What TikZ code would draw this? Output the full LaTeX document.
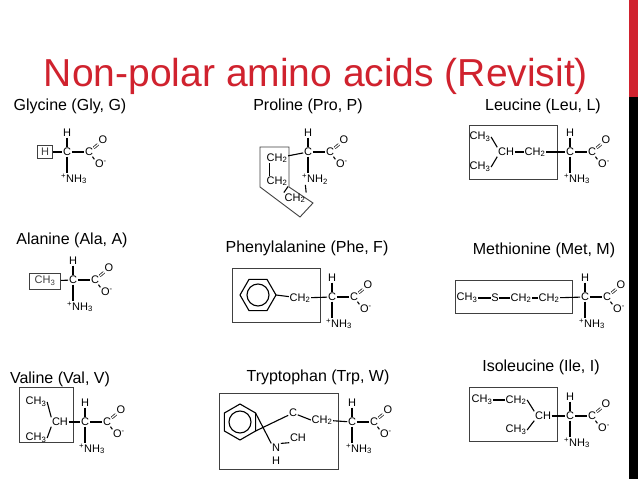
\documentclass[tikz,border=0pt]{standalone}
\usepackage{fontspec}
\setmainfont{Liberation Sans}
\definecolor{titlered}{HTML}{D0222E}
\tikzset{
 chem/.style={font=\fontsize{11}{11}\selectfont, inner sep=0.6pt},
 lbl/.style={font=\fontsize{16}{16}\selectfont, inner sep=0pt},
 bond/.style={line width=1.1pt},
 sbox/.style={draw, line width=0.9pt, black!75},
}
\newcommand\aacore[4]{%
 \node[chem] (#1C) at (#2,#3) {C};
 \node[chem] (#1H) at (#2,#3-19) {H};
 \node[chem] (#1N) at (#2+7,#3+27) {\textsuperscript{+}#4};
 \node[chem] (#1K) at (#2+22,#3) {C};
 \node[chem] (#1O) at (#2+36,#3-12) {O};
 \node[chem] (#1M) at (#2+34,#3+12) {O\textsuperscript{-}};
 \draw[bond] (#1H) -- (#1C);
 \draw[bond] (#1C.south) -- (#1C.south |- #1N.north);
 \draw[bond] (#1C) -- (#1K);
 \draw[bond,double,double distance=1.3pt,line width=0.7pt] (#1K) -- (#1O);
 \draw[bond] (#1K) -- (#1M.north west);
}
\newcommand\trsub[1]{\textsubscript{#1}}
\begin{document}
\begin{tikzpicture}[x=1pt,y=-1pt]
\useasboundingbox (0,0) rectangle (638,479);
\fill[white] (0,0) rectangle (638,479);
\fill[titlered] (629,0) rectangle (638,97);
\fill[black] (629,97) rectangle (638,479);
\node[font=\fontsize{39}{39}\selectfont, text=titlered, inner sep=0pt] (title) at (316,76) {Non-polar amino acids (Revisit)};

% labels
\node[lbl] (lg) at (70,106) {Glycine (Gly, G)};
\node[lbl] (lp) at (308,106) {Proline (Pro, P)};
\node[lbl] (ll) at (543,106) {Leucine (Leu, L)};
\node[lbl] (la) at (72,240) {Alanine (Ala, A)};
\node[lbl] (lf) at (307,248) {Phenylalanine (Phe, F)};
\node[lbl] (lm) at (544,250) {Methionine (Met, M)};
\node[lbl] (lv) at (60,379) {Valine (Val, V)};
\node[lbl] (lw) at (318,377) {Tryptophan (Trp, W)};
\node[lbl] (li) at (541,367) {Isoleucine (Ile, I)};

% Glycine
\aacore{g}{67}{152}{NH\trsub{3}}
\node[chem,sbox,minimum width=15pt,minimum height=13pt] (gR) at (45,152) {H};
\draw[bond] (gR) -- (gC);

% Proline
\aacore{p}{308}{152}{NH\trsub{2}}
\draw[sbox] (260,147) -- (289,147) -- (289,187) -- (313,203) -- (300,217) -- (260,187) -- cycle;
\node[chem] (p1) at (277,158) {CH\trsub{2}};
\node[chem] (p2) at (277,181) {CH\trsub{2}};
\node[chem] (p3) at (295,198) {CH\trsub{2}};
\draw[bond] (p1) -- (pC);
\draw[bond] (p1.south west) ++(4,0) coordinate (pa) -- (pa |- p2.north);
\draw[bond] (p2.south east) -- (p3.north west);
\draw[bond] (pN.south west) ++(4,0) -- (p3.north east);

% Leucine
\aacore{l}{570}{152}{NH\trsub{3}}
\draw[sbox] (469,125) rectangle (557,179);
\node[chem] (l1) at (480,137) {CH\trsub{3}};
\node[chem] (l2) at (506,152) {CH};
\node[chem] (l3) at (535,152) {CH\trsub{2}};
\node[chem] (l4) at (480,167) {CH\trsub{3}};
\draw[bond] (l1.east) -- (l2.north west);
\draw[bond] (l4.east) -- (l2.south west);
\draw[bond] (l2) -- (l3);
\draw[bond] (l3) -- (lC);

% Alanine
\aacore{a}{73}{280}{NH\trsub{3}}
\node[chem,sbox,minimum width=31pt,minimum height=16pt] (aR) at (45,281) {CH\trsub{3}};
\draw[bond] (aR) -- (aC);

% Phenylalanine
\aacore{f}{332}{297}{NH\trsub{3}}
\draw[sbox] (232,268) rectangle (320,322);
\draw[bond] (258,295) +(0:18) -- +(60:18) -- +(120:18) -- +(180:18) -- +(240:18) -- +(300:18) -- cycle;
\draw[bond] (258,295) circle (11);
\coordinate (fb) at (276,295);
\node[chem] (f1) at (300,298) {CH\trsub{2}};
\draw[bond] (fb) -- (f1);
\draw[bond] (f1) -- (fC);

% Methionine
\aacore{m}{585}{297}{NH\trsub{3}}
\draw[sbox] (455,280) rectangle (572,313);
\node[chem] (m1) at (467,298) {CH\trsub{3}};
\node[chem] (m2) at (495,298) {S};
\node[chem] (m3) at (521,298) {CH\trsub{2}};
\node[chem] (m4) at (549,298) {CH\trsub{2}};
\draw[bond] (m1) -- (m2);
\draw[bond] (m2) -- (m3);
\draw[bond] (m3) -- (m4);
\draw[bond] (m4) -- (mC);

% Valine
\aacore{v}{85}{422}{NH\trsub{3}}
\draw[sbox] (19,387) rectangle (73,442);
\node[chem] (v1) at (36,402) {CH\trsub{3}};
\node[chem] (v2) at (60,422) {CH};
\node[chem] (v3) at (36,438) {CH\trsub{3}};
\draw[bond] (v1.east) -- (v2.north west);
\draw[bond] (v3.east) -- (v2.south west);
\draw[bond] (v2) -- (vC);

% Tryptophan
\aacore{w}{352}{422}{NH\trsub{3}}
\draw[sbox] (219,393) rectangle (338,469);
\draw[bond] (240,422) +(30:18) coordinate (wa) -- +(90:18) -- +(150:18) -- +(210:18) -- +(270:18) -- +(330:18) coordinate (wb) -- cycle;
\draw[bond] (240,422) circle (11);
\node[chem] (w1) at (293,413) {C};
\node[chem] (w2) at (298,438) {CH};
\node[chem] (w3) at (276,448) {N};
\node[chem] (w4) at (276,461) {H};
\node[chem] (w5) at (322,420) {CH\trsub{2}};
\draw[bond] (wa) -- (w1);
\draw[bond,double,double distance=1.3pt,line width=0.7pt] (w1) -- (w1 |- w2.north);
\draw[bond] (w2.south west) -- (w3.north east);
\draw[bond] (w3.north west) -- (wb);
\draw[bond] (w1) -- (w5.west);
\draw[bond] (w5) -- (wC);

% Isoleucine
\aacore{i}{570}{416}{NH\trsub{3}}
\draw[sbox] (469,387) rectangle (557,441);
\node[chem] (i1) at (482,400) {CH\trsub{3}};
\node[chem] (i2) at (516,400) {CH\trsub{2}};
\node[chem] (i3) at (543,416) {CH};
\node[chem] (i4) at (516,430) {CH\trsub{3}};
\draw[bond] (i1) -- (i2);
\draw[bond] (i2.east) -- (i3.north west);
\draw[bond] (i4.east) -- (i3.south west);
\draw[bond] (i3) -- (iC);
\end{tikzpicture}
\end{document}
